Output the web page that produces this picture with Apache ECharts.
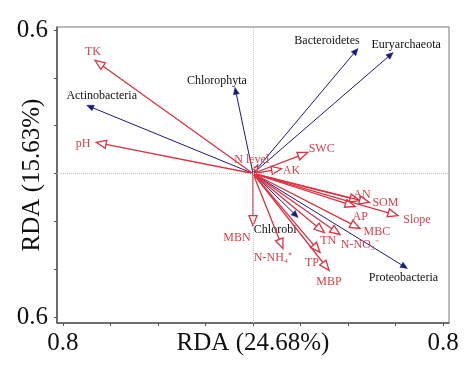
<!DOCTYPE html>
<html>
<head>
<meta charset="utf-8">
<script src="https://cdn.jsdelivr.net/npm/echarts@6/dist/echarts.min.js"></script>
<style>html,body{margin:0;padding:0;background:#fff}#c{width:474px;height:367px}</style>
</head>
<body>
<div id="c"></div>
<script>
// ---- Data (RDA1, RDA2 loadings) ----
const envNames = ['TK','pH','N level','SWC','AK','AN','SOM','AP','Slope','MBC','N-NO₃⁻','TN','TP','MBP','N-NH₄⁺','MBN'];
const envRDA1  = [-0.665,-0.660, 0.020, 0.230, 0.120, 0.450, 0.490, 0.430, 0.610, 0.450, 0.366, 0.300, 0.282, 0.320, 0.126, 0.000];
const envRDA2  = [ 0.473, 0.130, 0.035, 0.088, 0.020,-0.113,-0.121,-0.138,-0.176,-0.230,-0.255,-0.247,-0.330,-0.405,-0.314,-0.218];

const taxaNames = ['Actinobacteria','Chlorophyta','Bacteroidetes','Euryarchaeota','Chlorobi','Proteobacteria'];
const taxaRDA1  = [-0.700,-0.076, 0.442, 0.590, 0.190, 0.650];
const taxaRDA2  = [ 0.285, 0.360, 0.523, 0.506,-0.184,-0.397];

const xTickValues = [-0.8,-0.6,-0.4,-0.2,0,0.2,0.4,0.6,0.8];
const yTickValues = [-0.6,-0.4,-0.2,0,0.2,0.4,0.6];
const xLabelValues = [-0.8, 0.8];
const xLabelTexts  = ['0.8','0.8'];
const yLabelValues = [-0.6, 0.6];
const yLabelTexts  = ['0.6','0.6'];

// ---- Label placement (pixel offsets from arrow tips) ----
const labelOffset = {
  'TK':[-2,-9], 'pH':[-13,1], 'N level':[-6,-5], 'SWC':[14,-4], 'AK':[10,2],
  'AN':[2,-6], 'SOM':[16,0], 'AP':[5,10], 'Slope':[19,4], 'MBC':[17,3],
  'N-NO₃⁻':[20,10], 'TN':[4,8], 'TP':[-8,10], 'MBP':[0,11], 'N-NH₄⁺':[-10,9], 'MBN':[-16,12],
  'Actinobacteria':[15,-9], 'Chlorophyta':[-18,-7], 'Bacteroidetes':[-31,-8],
  'Euryarchaeota':[13,-8], 'Chlorobi':[-23,12], 'Proteobacteria':[-4,9]
};

const RED = '#de3140', RED_TXT = '#d8404c', BLUE = '#1b1b7a';
const FONT = '"Liberation Serif","Times New Roman",serif';

function makeRender(names, hollow, lineColor, textColor, hl0, hw0, lw) {
  return function (params, api) {
    const o = api.coord([0, 0]);
    const p = api.coord([api.value(0), api.value(1)]);
    const name = names[params.dataIndex];
    const dx = p[0] - o[0], dy = p[1] - o[1];
    const len = Math.hypot(dx, dy) || 1;
    const ux = dx / len, uy = dy / len;
    const hl = Math.min(hl0, len * 0.6), hw = hw0 * hl / hl0;
    const b = [p[0] - ux * hl, p[1] - uy * hl];
    const l = [b[0] - uy * hw, b[1] + ux * hw];
    const r = [b[0] + uy * hw, b[1] - ux * hw];
    const off = labelOffset[name] || [0, 0];
    return {
      type: 'group',
      children: [
        { type: 'line', shape: { x1: o[0], y1: o[1], x2: b[0], y2: b[1] },
          style: { stroke: lineColor, lineWidth: lw } },
        { type: 'polygon', shape: { points: [p, l, r] },
          style: hollow ? { fill: '#fff', stroke: lineColor, lineWidth: lw }
                        : { fill: lineColor, stroke: lineColor, lineWidth: 0.5 } },
        { type: 'text', x: p[0] + off[0], y: p[1] + off[1],
          style: { text: name, fill: textColor, font: '12px ' + FONT,
                   align: 'center', verticalAlign: 'middle' } }
      ]
    };
  };
}

const chart = echarts.init(document.getElementById('c'), null, { renderer: 'canvas' });
chart.setOption({
  animation: false,
  grid: { left: 57, top: 27, width: 392, height: 296, show: true,
          containLabel: false, outerBoundsMode: 'none',
          borderColor: '#777', borderWidth: 1, backgroundColor: 'transparent' },
  xAxis: {
    type: 'value', min: -0.825, max: 0.825,
    name: 'RDA (24.68%)', nameLocation: 'middle', nameGap: 8, nameMoveOverlap: false,
    nameTextStyle: { fontFamily: FONT, fontSize: 25, color: '#111', verticalAlign: 'top' },
    axisLine: { show: true, onZero: false, lineStyle: { color: '#555', width: 1.5 } },
    axisTick: { show: true, inside: false, length: 3, customValues: xTickValues,
                lineStyle: { color: '#555', width: 1 } },
    axisLabel: { show: true, customValues: xLabelValues, margin: 8,
                 fontFamily: FONT, fontSize: 25, color: '#111',
                 formatter: v => { const i = xLabelValues.findIndex(t => Math.abs(t - v) < 1e-9); return i >= 0 ? xLabelTexts[i] : ''; } },
    splitLine: { show: false }
  },
  yAxis: {
    type: 'value', min: -0.625, max: 0.6125,
    name: 'RDA (15.63%)', nameLocation: 'middle', nameGap: 12, nameMoveOverlap: false,
    nameTextStyle: { fontFamily: FONT, fontSize: 25, color: '#111' },
    axisLine: { show: true, onZero: false, lineStyle: { color: '#555', width: 1.5 } },
    axisTick: { show: true, inside: false, length: 3, customValues: yTickValues,
                lineStyle: { color: '#555', width: 1 } },
    axisLabel: { show: true, customValues: yLabelValues, margin: 9,
                 fontFamily: FONT, fontSize: 25, color: '#111',
                 formatter: v => { const i = yLabelValues.findIndex(t => Math.abs(t - v) < 1e-9); return i >= 0 ? yLabelTexts[i] : ''; } },
    splitLine: { show: false }
  },
  series: [
    {
      type: 'scatter', data: [], silent: true,
      markLine: { silent: true, symbol: 'none', label: { show: false },
        lineStyle: { color: '#c8c8c8', type: 'dotted', width: 1 },
        data: [{ xAxis: 0 }, { yAxis: 0 }] }
    },
    {
      type: 'custom', name: 'taxa',
      data: taxaRDA1.map((v, i) => [v, taxaRDA2[i]]),
      renderItem: makeRender(taxaNames, false, BLUE, '#111', 7, 3, 1)
    },
    {
      type: 'custom', name: 'env',
      data: envRDA1.map((v, i) => [v, envRDA2[i]]),
      renderItem: makeRender(envNames, true, RED, RED_TXT, 10, 4, 1.3)
    }
  ]
});
</script>
</body>
</html>
